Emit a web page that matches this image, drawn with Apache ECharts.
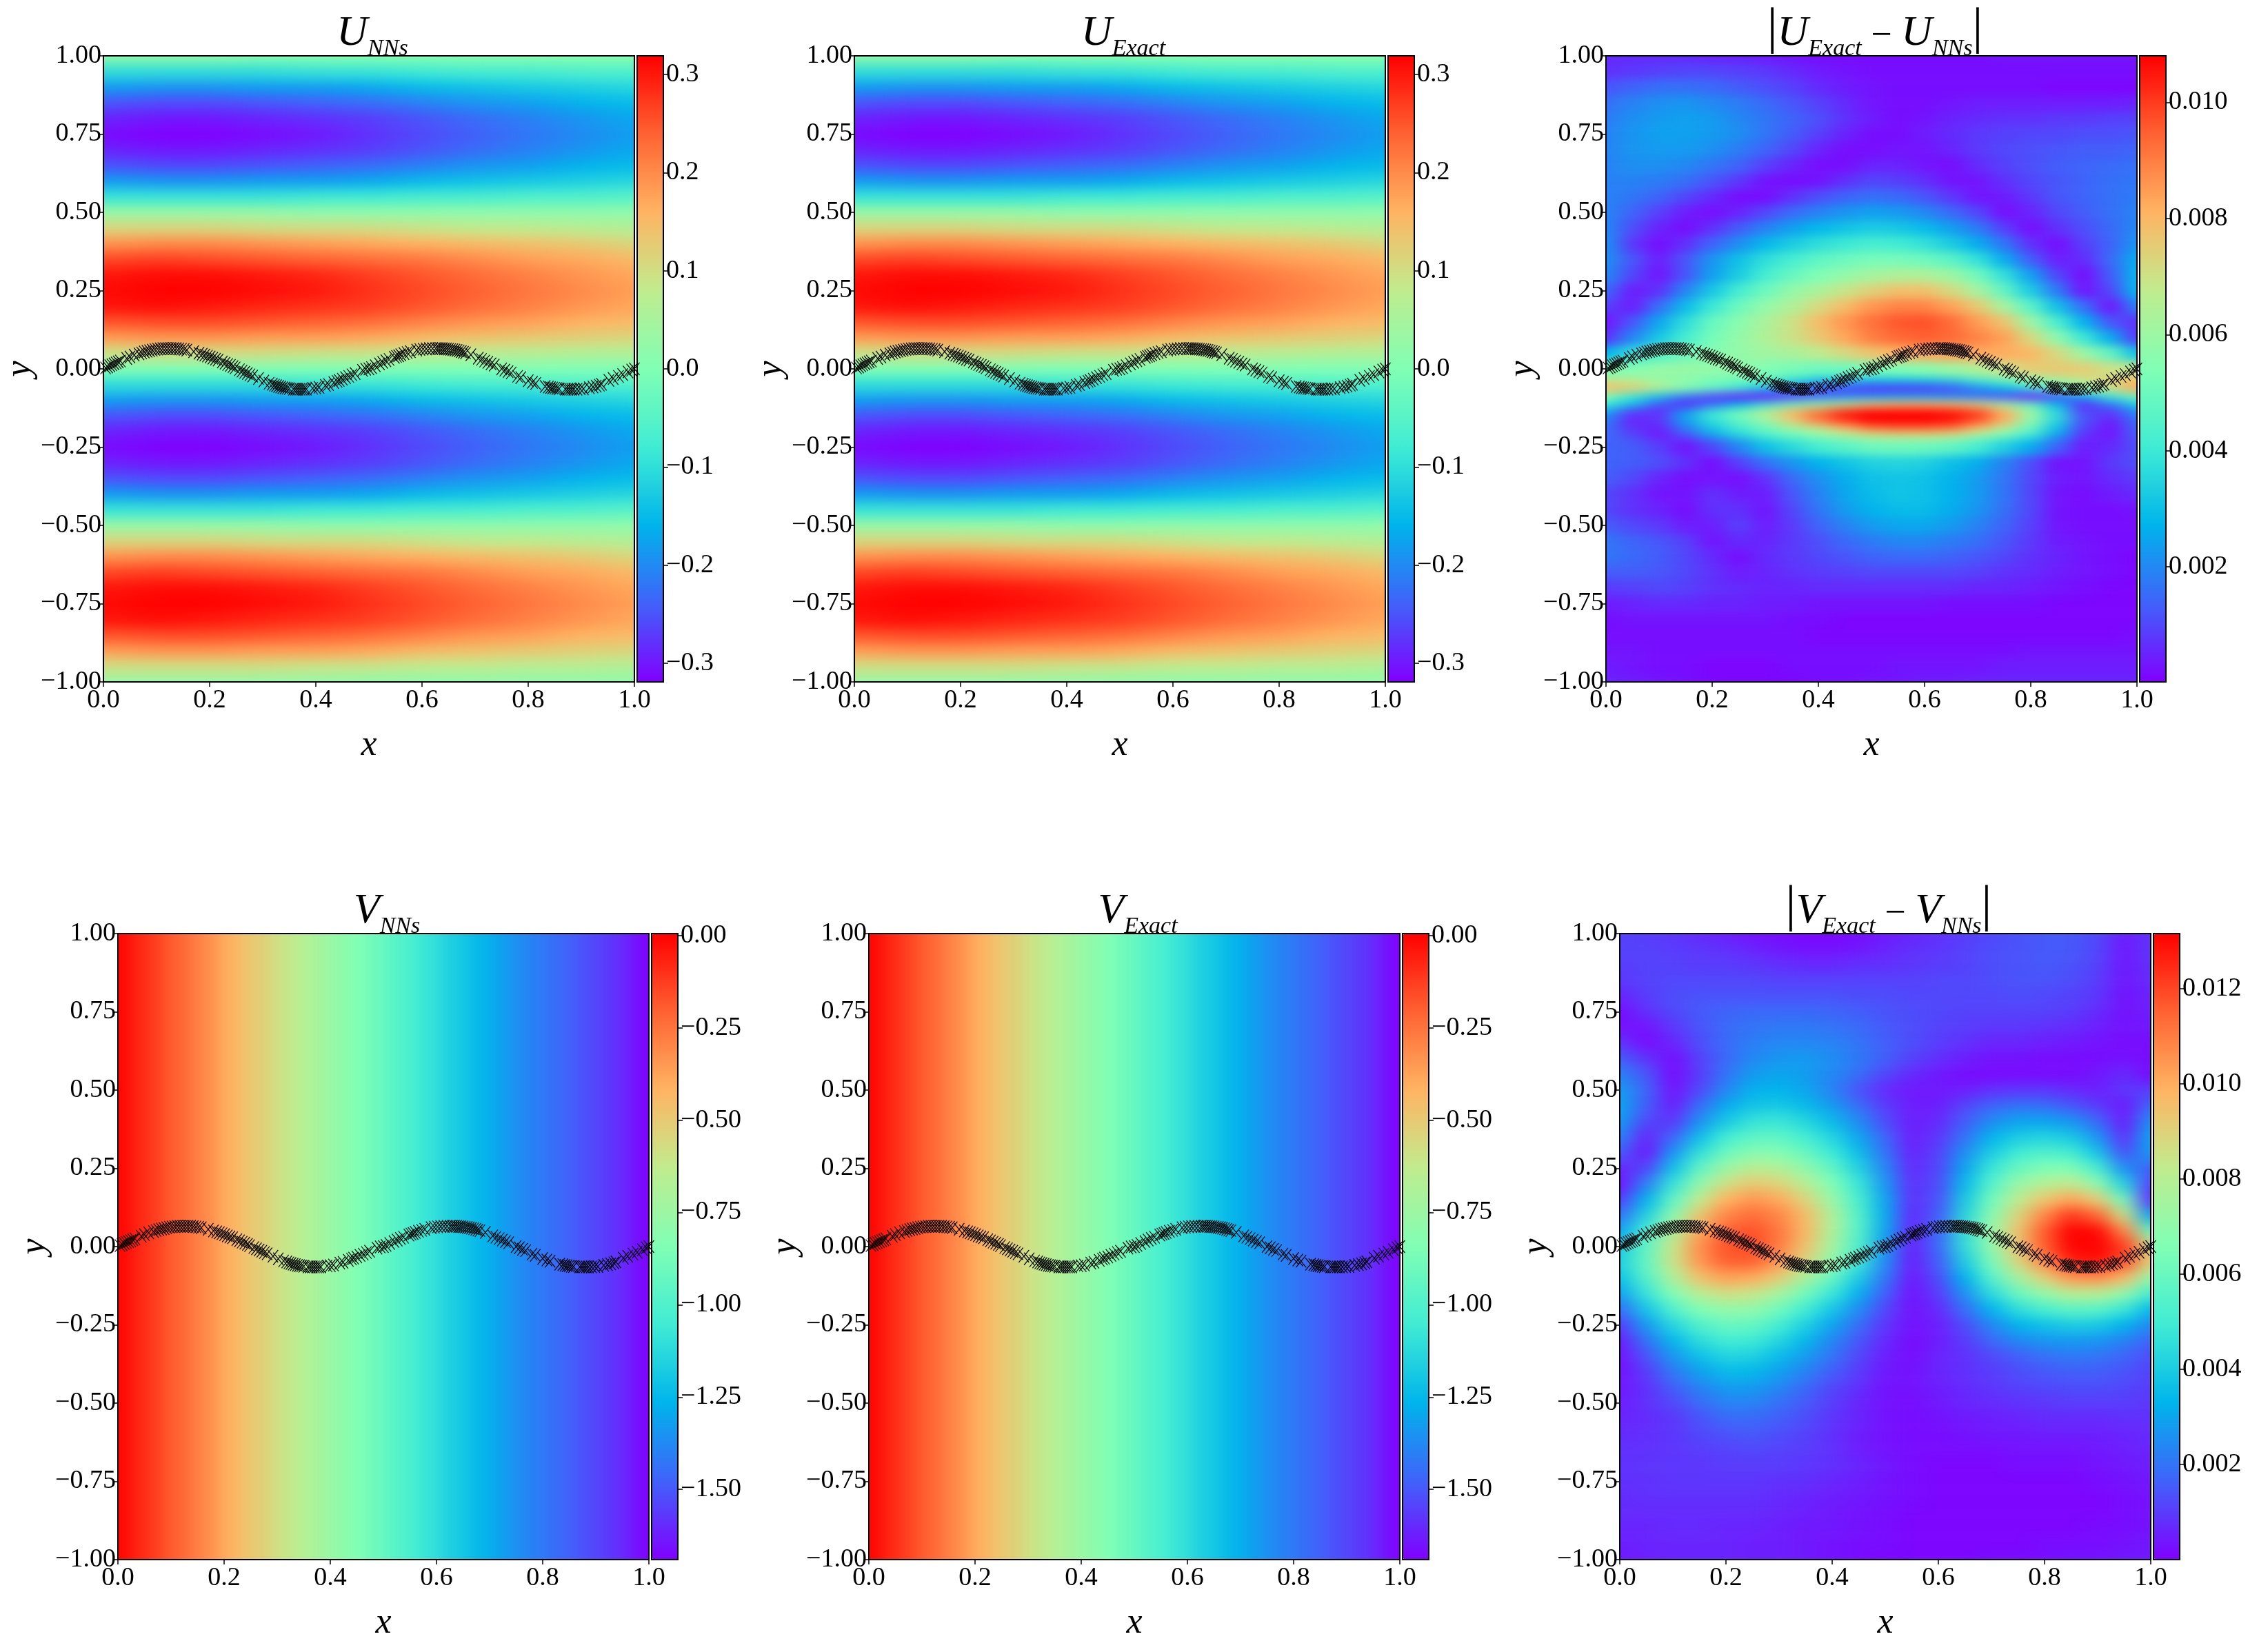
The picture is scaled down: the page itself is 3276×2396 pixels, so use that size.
<!DOCTYPE html>
<html>
<head>
<meta charset="utf-8">
<title>U V fields</title>
<script src="https://cdn.jsdelivr.net/npm/echarts@6/dist/echarts.min.js"></script>
<style>
html, body { margin: 0; padding: 0; background: #fff; }
#charts { position: absolute; left: 0; top: 0; width: 3276px; height: 2396px; z-index: 10; }
.heat { position: absolute; overflow: hidden; z-index: 1; }
.heat div.inner { position: absolute; }
</style>
</head>
<body>
<svg width="0" height="0" style="position:absolute">
	<filter id="blurU" x="0" y="0" width="100%" height="100%" color-interpolation-filters="sRGB"><feGaussianBlur stdDeviation="34 9"/></filter>
	<filter id="blurV" x="0" y="0" width="100%" height="100%" color-interpolation-filters="sRGB"><feGaussianBlur stdDeviation="9 1"/></filter>
	<filter id="blurE" x="0" y="0" width="100%" height="100%" color-interpolation-filters="sRGB"><feGaussianBlur stdDeviation="15 9"/></filter>
	<filter id="blurF" x="0" y="0" width="100%" height="100%" color-interpolation-filters="sRGB"><feGaussianBlur stdDeviation="14 7"/></filter>
</svg>
<div id="charts"></div>
<script>
// rows run from y=1 down to y=-1 in steps of 0.05
// U field, columns x=0..1 step 0.1. NN and exact look the same at this reading precision
const uField = [
	[.02,.02,.02,.01,.01,.01,.01,.01,.01,.01,.01],
	[-.10,-.10,-.10,-.10,-.09,-.09,-.08,-.07,-.07,-.06,-.06],
	[-.18,-.19,-.19,-.18,-.18,-.17,-.15,-.14,-.13,-.12,-.11],
	[-.25,-.26,-.26,-.25,-.24,-.23,-.21,-.19,-.18,-.16,-.15],
	[-.29,-.30,-.30,-.29,-.28,-.27,-.25,-.23,-.21,-.19,-.17],
	[-.31,-.32,-.32,-.31,-.30,-.28,-.26,-.24,-.22,-.20,-.18],
	[-.29,-.30,-.30,-.29,-.28,-.27,-.25,-.23,-.21,-.19,-.17],
	[-.25,-.26,-.26,-.25,-.24,-.23,-.21,-.19,-.18,-.16,-.15],
	[-.18,-.19,-.19,-.18,-.18,-.17,-.15,-.14,-.13,-.12,-.11],
	[-.09,-.09,-.09,-.09,-.08,-.08,-.07,-.07,-.06,-.06,-.05],
	[.03,.03,.03,.03,.02,.02,.02,.02,.02,.02,.02],
	[.11,.11,.11,.10,.10,.10,.09,.08,.08,.07,.06],
	[.19,.20,.20,.19,.18,.17,.16,.15,.14,.13,.11],
	[.26,.27,.26,.25,.24,.23,.22,.20,.18,.17,.15],
	[.30,.31,.31,.30,.29,.27,.25,.23,.21,.19,.17],
	[.31,.32,.32,.31,.30,.28,.26,.24,.22,.20,.18],
	[.30,.31,.30,.29,.28,.27,.25,.23,.21,.19,.17],
	[.25,.26,.26,.25,.24,.23,.21,.19,.18,.16,.15],
	[.18,.19,.19,.18,.18,.17,.15,.14,.13,.12,.11],
	[.09,.10,.10,.10,.09,.09,.08,.07,.07,.06,.06],
	[.00,.00,.00,.00,.00,.00,.00,.00,.00,.00,.00],
	[-.10,-.10,-.10,-.10,-.09,-.09,-.08,-.07,-.07,-.06,-.06],
	[-.18,-.19,-.19,-.18,-.18,-.17,-.15,-.14,-.13,-.12,-.11],
	[-.25,-.26,-.26,-.25,-.24,-.23,-.21,-.19,-.18,-.16,-.15],
	[-.29,-.30,-.30,-.29,-.28,-.27,-.25,-.23,-.21,-.19,-.17],
	[-.31,-.32,-.32,-.31,-.30,-.28,-.26,-.24,-.22,-.20,-.18],
	[-.29,-.30,-.30,-.29,-.28,-.27,-.25,-.23,-.21,-.19,-.17],
	[-.25,-.26,-.26,-.25,-.24,-.23,-.21,-.19,-.18,-.16,-.15],
	[-.18,-.19,-.19,-.18,-.18,-.17,-.15,-.14,-.13,-.12,-.11],
	[-.09,-.09,-.09,-.09,-.08,-.08,-.07,-.07,-.06,-.06,-.05],
	[.03,.03,.03,.03,.02,.02,.02,.02,.02,.02,.02],
	[.11,.11,.11,.10,.10,.10,.09,.08,.08,.07,.06],
	[.19,.20,.20,.19,.18,.17,.16,.15,.14,.13,.11],
	[.26,.27,.26,.25,.24,.23,.22,.20,.18,.17,.15],
	[.30,.31,.31,.30,.29,.27,.25,.23,.21,.19,.17],
	[.31,.32,.32,.31,.30,.28,.26,.24,.22,.20,.18],
	[.30,.31,.30,.29,.28,.27,.25,.23,.21,.19,.17],
	[.25,.26,.26,.25,.24,.23,.21,.19,.18,.16,.15],
	[.18,.19,.19,.18,.18,.17,.15,.14,.13,.12,.11],
	[.10,.10,.10,.10,.09,.09,.08,.08,.07,.07,.06],
	[.03,.03,.03,.03,.03,.02,.02,.02,.02,.02,.02]
];

// V field does not change with y, one row, columns x=0..1 step 0.025
const vField = [
	[0,-.05,-.09,-.14,-.19,-.23,-.28,-.33,-.39,-.44,-.49,-.53,-.58,-.62,-.67,-.71,-.76,-.80,-.84,-.89,-.93,-.98,-1.02,-1.07,-1.11,-1.16,-1.20,-1.24,-1.28,-1.32,-1.36,-1.39,-1.42,-1.45,-1.48,-1.51,-1.54,-1.57,-1.60,-1.65,-1.69]
];

// |U exact - U NN| in units of 0.001, columns x=0..1 step 0.05
// rows y=1..0 step .05, then y=-.025..-.2 step .025 around the thin band, then y=-.25..-1 step .05
const errU = [
	[.6,.6,.6,.6,.5,.5,.4,.3,.2,.2,.2,.2,.2,.2,.2,.3,.3,.3,.3,.3,.3],
	[.7,.8,.9,1,1,.9,.8,.6,.4,.3,.2,.2,.2,.2,.2,.2,.2,.2,.2,.2,.2],
	[1.2,1.4,1.6,1.6,1.5,1.3,1.1,.9,.6,.4,.3,.2,.2,.2,.2,.2,.2,.1,.1,.1,.1],
	[1.6,1.9,2.1,2.2,2,1.8,1.5,1.2,.9,.6,.3,.2,.2,.3,.4,.4,.4,.4,.4,.4,.5],
	[1.8,2.1,2.3,2.4,2.3,2,1.7,1.4,1.1,.7,.4,.2,.3,.5,.6,.7,.7,.8,.8,.9,.9],
	[1.9,2.2,2.4,2.4,2.3,2.1,1.7,1.3,.9,.5,.2,.2,.4,.6,.8,.9,1,1,1.1,1.1,1.2],
	[1.9,2.2,2.3,2.3,2.1,1.8,1.4,1,.5,.2,.2,.3,.3,.5,.8,1,1.1,1.2,1.3,1.3,1.4],
	[1.9,2.1,2.1,2,1.7,1.4,.9,.5,.2,.2,.5,.5,.3,.2,.6,.9,1.1,1.3,1.4,1.5,1.6],
	[1.9,1.9,1.8,1.6,1.2,.8,.3,.2,.3,.7,1,.9,.7,.3,.3,.7,1,1.2,1.4,1.6,1.7],
	[1.9,1.7,1.4,1,.6,.2,.2,.7,1.1,1.4,1.6,1.5,1.2,.8,.3,.4,.8,1.2,1.4,1.6,1.8],
	[1.9,1.4,.9,.4,.2,.5,1,1.5,1.9,2.2,2.4,2.3,2,1.5,1,.2,.5,1,1.3,1.6,1.9],
	[2,1.1,.5,.2,.7,1.3,1.9,2.4,2.8,3.1,3.3,3.2,2.9,2.4,1.8,.9,.2,.7,1.1,1.5,2],
	[2.1,.8,.2,.7,1.4,2.1,2.8,3.3,3.7,4,4.2,4.1,3.8,3.3,2.6,1.7,.7,.2,.9,1.4,2.2],
	[2.1,1.2,.4,1.2,2.2,3,3.7,4.2,4.7,5,5.2,5.2,5,4.6,3.8,2.6,1.3,.4,.6,1.5,2.6],
	[2,1,.3,1.2,2.4,3.3,4.2,4.9,5.4,5.8,6.2,6.4,6.4,6,5.1,3.8,2.4,1,.2,1.3,2.8],
	[1.5,.4,.7,2,3.2,4.2,5,5.8,6.3,6.9,7.4,7.8,7.8,7.2,6.2,4.8,3.3,1.8,.3,1,2.8],
	[.9,.4,1.6,2.9,4,5,5.8,6.4,7.2,7.9,8.6,8.9,8.9,8.4,7.6,6.2,4.6,3,1.6,.3,1.9],
	[.3,1.2,2.5,3.7,4.9,5.6,6.3,7,7.9,8.6,9.2,9.6,9.7,9.3,8.5,7.7,6,4.3,2.7,1.2,.7],
	[.7,2,3.2,4.2,5.2,5.8,6.4,7,7.6,8.3,9,9.3,9.5,9.3,8.9,8.4,7.2,5.7,4,2.6,.8],
	[2.7,3.7,4.4,5,5.5,5.8,6.1,6.3,6.7,7.2,7.7,8.1,8.3,8.4,8.3,8.2,8,7.2,6,4.8,3],
	[5.2,5.5,5.8,5.9,5.8,5.7,5.4,5.2,5,5,5.2,5.4,5.6,6,6.4,7,7.5,7.6,7.5,7,6.8],
	[7,6.7,6,5.6,5.2,5,4.5,3.7,3,3,2.9,2.9,3,3.3,4,4.8,5.4,6,6.8,7.5,8],
	[8,7.6,6.6,5.6,4.8,4,3,1.9,1,.9,.6,.6,.7,1,1.9,2.8,3.7,4.5,5.6,7,8.3],
	[5.5,4,3,1.8,.9,.3,.2,.8,1.6,2,2.2,2.4,2.3,2.1,1.6,1,.3,1,2.6,4,5],
	[4,3,1.3,.5,1.5,2.7,3.8,4.9,5.8,6.6,7.5,8,8,7.8,7.2,6,4.8,2.8,.6,1.8,3.4],
	[2.4,.8,.6,2.4,4,5.2,6.6,8,9.2,10.4,10.8,10.8,10.8,10.6,10,8.2,6,3.6,1,.8,2],
	[1.8,.5,.8,2.4,3.8,4.8,6,7.6,9.2,10.2,10.8,10.8,10.8,10.6,9.8,8.2,5.8,3.6,1.2,.5,1.6],
	[1.6,.7,.5,1.9,3.2,4.2,5,6,6.9,8,9.2,9.5,9.5,9.2,8,6.6,5,3,1,.3,1.4],
	[1.5,1,.3,1.1,2.4,3.4,4.3,5,5.6,6.2,6.8,7,7,6.8,6,5.2,4,2.4,.7,.3,1.3],
	[1.4,1.3,.9,.3,1,2,3,3.6,4.2,4.6,5,5.1,5,4.8,4.2,3.4,2.6,1.4,.4,.6,1.1],
	[1.4,1.3,1.1,.7,.2,.9,1.6,2.2,2.7,3.1,3.4,3.5,3.4,3,2.6,1.9,1.1,.3,.3,.8,1.1],
	[1.3,1,.5,.2,.3,.2,.7,1.5,2.1,2.6,3,3.1,3,2.7,2.3,1.7,1,.4,.3,.6,.8],
	[1,.7,.3,.3,.7,.4,.4,1.2,1.9,2.5,2.9,3.1,3,2.7,2.3,1.7,1,.3,.2,.4,.6],
	[1,.7,.5,.2,.7,.7,.3,1,1.7,2.3,2.7,2.9,2.9,2.6,2.2,1.6,1,.3,.2,.2,.3],
	[1.3,1,.8,.4,.4,.9,.4,.8,1.4,1.9,2.3,2.5,2.5,2.3,1.9,1.4,.9,.3,.2,.2,.2],
	[1.7,1.4,1.2,.9,.3,.6,.5,.8,1.1,1.5,1.8,2,2,1.8,1.6,1.2,.8,.4,.3,.2,.2],
	[1.7,1.5,1.3,1,.6,.2,.6,.8,1,1.2,1.4,1.5,1.5,1.4,1.2,1,.7,.5,.3,.2,.1],
	[1.3,1.3,1.2,1,.7,.4,.5,.7,.8,.9,1,1,1,1,.9,.7,.6,.4,.3,.2,.1],
	[.8,.9,1,.9,.7,.6,.5,.5,.6,.6,.6,.6,.6,.6,.5,.5,.4,.3,.2,.1,.1],
	[.4,.5,.6,.6,.5,.5,.4,.4,.3,.3,.3,.3,.3,.2,.2,.2,.2,.1,.1,.1,.1],
	[.2,.3,.3,.3,.3,.3,.3,.2,.2,.1,.1,.1,.1,.1,.1,.1,.1,.1,.1,.1,.1],
	[.2,.2,.2,.2,.2,.2,.2,.2,.1,.1,.1,.1,.1,.1,.1,.1,.1,.1,.1,.1,.2],
	[.3,.3,.2,.2,.2,.2,.2,.2,.2,.2,.2,.2,.2,.2,.2,.2,.3,.3,.3,.3,.3],
	[.4,.3,.2,.2,.1,.1,.1,.2,.2,.2,.2,.3,.3,.3,.3,.4,.4,.4,.4,.4,.4],
	[.5,.4,.3,.2,.1,.1,.1,.1,.2,.2,.3,.3,.4,.4,.5,.5,.5,.5,.5,.5,.5]
];
// how many 0.025 high strips each errU row covers
const errUSpan = [1,2,2,2,2,2,2,2,2,2,2,2,2,2,2,2,2,2,2,2,2,1,1,1,1,1,1,1,1,2,2,2,2,2,2,2,2,2,2,2,2,2,2,2,1];

// |V exact - V NN| in units of 0.001, columns x=0..1 step 0.05
const errV = [
	[1.1,1,.9,.7,.5,.3,.2,.1,.1,.2,.4,.6,.8,1,1.2,1.4,1.5,1.5,1.2,.5,.8],
	[1.1,1.1,1,.9,.8,.6,.4,.3,.3,.4,.6,.8,.9,1.1,1.3,1.4,1.5,1.5,1.2,.4,.9],
	[1,1.1,1.1,1,1,.9,.8,.7,.7,.8,.8,.9,1,1.1,1.3,1.4,1.5,1.4,1.1,.4,.8],
	[.9,1.1,1.2,1.2,1.2,1.2,1.1,1.1,1.1,1.1,1.1,1.1,1.2,1.2,1.3,1.4,1.4,1.3,1,.4,.7],
	[.6,1,1.3,1.4,1.4,1.4,1.4,1.4,1.4,1.3,1.3,1.2,1.2,1.2,1.2,1.3,1.2,1.1,.9,.3,.6],
	[.2,.8,1.2,1.5,1.7,1.8,1.8,1.8,1.7,1.6,1.4,1.3,1.2,1.1,1.1,1.1,1.1,1,.7,.3,.5],
	[.3,.3,.9,1.4,1.8,2,2.1,2.1,2,1.8,1.5,1.3,1.1,1,.9,.9,.8,.7,.5,.3,.4],
	[.9,.2,.6,1.3,1.8,2.2,2.4,2.4,2.3,2,1.6,1.3,1,.8,.6,.6,.5,.4,.3,.2,.2],
	[1.6,.9,.2,1.1,1.8,2.4,2.7,2.8,2.5,2.1,1.6,1.1,.8,.5,.3,.3,.2,.2,.2,.3,.2],
	[2.3,1.5,.2,1,2,2.8,3,2.8,2.4,1.9,1.2,.7,.4,.2,.2,.2,.2,.2,.4,.7,.2],
	[2.8,1.7,.3,1.2,2.4,3.2,3.3,3,2.3,1.4,.7,.4,.4,.5,.8,.9,.9,.7,.5,.9,1],
	[3,1.6,.5,1.9,3.1,3.8,3.9,3.5,2.8,1.9,1,.5,.5,1.2,1.7,2,1.9,1.5,1,.4,1.8],
	[2.8,1.2,.9,2.6,3.9,4.7,4.8,4.3,3.5,2.5,1.3,.5,.7,1.6,2.5,3,3,2.7,1.8,.5,2.6],
	[2.3,.6,1.7,3.6,5,5.7,5.7,5.1,4.2,3,1.7,.5,.9,2,3.3,4,4.2,3.9,2.7,.8,3],
	[1.6,.4,2.7,4.6,6.1,6.8,6.7,6,4.9,3.6,2,.6,1.1,2.6,4,5,5.4,5.1,3.8,1.4,2.8],
	[.6,1.2,3.7,5.8,7.3,8.1,7.9,7,5.8,4.2,2.4,.7,1.2,3,4.8,6,6.6,6.6,5.2,2.6,1.6],
	[.3,2.3,4.7,7,8.6,9.3,9,8,6.6,4.8,2.7,.8,1.3,3.5,5.5,7.2,8,8.3,7,4.2,1.1],
	[1,3.3,5.8,8.2,9.9,10.5,10.1,8.9,7.2,5.2,3,.8,1.4,3.9,6.2,8.1,9.4,10.2,9.2,6.2,.8],
	[2,4.2,6.9,9.3,10.8,11.3,10.8,9.6,7.8,5.5,3.1,.7,1.6,4.3,6.8,8.9,10.8,12.2,11.4,8.6,3],
	[3,5,7.8,10.1,11.5,11.8,11.1,9.7,7.8,5.5,3,.6,1.8,4.6,7.2,9.4,11.6,13.1,13,10.8,6],
	[3.9,5.8,8.4,10.6,11.8,11.9,11,9.4,7.5,5.3,2.8,.5,1.8,4.5,7,9.4,11.6,13.1,13.2,12.2,9],
	[4.1,5.9,8.4,10.4,11.5,11.5,10.4,8.8,6.9,4.8,2.5,.5,1.6,4,6.4,8.8,10.7,12.5,12.8,11.8,9],
	[3.7,5.5,7.7,9.4,10.2,10,9.1,7.6,5.9,4,2.1,.4,1.3,3.3,5.5,7.5,9,10.4,10.6,9.6,7],
	[2.9,4.7,6.6,8,8.6,8.4,7.5,6.2,4.8,3.2,1.6,.3,1,2.6,4.4,6,7.1,8,8,7,5],
	[1.9,3.8,5.4,6.6,7.1,7,6.2,5,3.8,2.5,1.2,.3,.7,1.9,3.3,4.5,5.2,5.7,5.6,4.8,3.4],
	[1,2.8,4.3,5.4,6,5.9,5.1,4.1,3,1.9,.9,.3,.5,1.3,2.4,3.3,3.7,4,3.9,3.3,2.4],
	[.5,2,3.4,4.5,5,4.9,4.3,3.4,2.4,1.5,.7,.2,.5,1,1.8,2.4,2.7,2.8,2.7,2.3,1.7],
	[.3,1.4,2.7,3.6,4.2,4.1,3.5,2.8,2,1.2,.5,.2,.6,.8,1.2,1.6,1.9,2.1,2,1.7,1.3],
	[.3,1,2.1,2.9,3.5,3.4,2.9,2.3,1.6,1,.4,.3,.6,.8,1,1.3,1.5,1.6,1.6,1.4,1.1],
	[.4,.8,1.6,2.3,2.8,2.8,2.4,1.8,1.2,.8,.3,.3,.5,.7,.9,1.1,1.2,1.3,1.3,1.2,1],
	[.5,.8,1.2,1.8,2.3,2.3,1.9,1.5,1,.6,.3,.2,.4,.6,.7,.8,.9,1,1,1,.9],
	[.6,.7,.9,1.4,1.8,1.8,1.6,1.3,.9,.6,.3,.2,.3,.4,.5,.6,.7,.7,.7,.8,.8],
	[.7,.8,.9,1.2,1.4,1.5,1.3,1.1,.8,.5,.3,.2,.2,.3,.4,.4,.5,.5,.5,.6,.7],
	[.8,.8,.9,1,1.1,1.2,1.1,1,.8,.5,.3,.2,.2,.2,.2,.3,.3,.3,.4,.5,.6],
	[.8,.9,.9,.9,1,1,1,.9,.8,.6,.4,.2,.1,.1,.1,.2,.2,.2,.3,.4,.5],
	[.8,.8,.9,.9,.9,.9,.8,.8,.6,.5,.3,.2,.1,.1,.1,.1,.1,.1,.2,.3,.4],
	[.7,.8,.8,.8,.8,.8,.7,.6,.5,.4,.3,.2,.1,.1,.1,.1,.1,.1,.1,.2,.3],
	[.7,.7,.7,.7,.7,.7,.6,.5,.4,.3,.2,.1,.1,.1,.1,.1,.1,.1,.1,.2,.3],
	[.6,.6,.7,.7,.6,.6,.5,.4,.4,.3,.2,.1,.1,.1,.1,.1,.1,.1,.2,.2,.3],
	[.5,.6,.6,.6,.6,.5,.5,.4,.3,.2,.2,.1,.1,.1,.1,.1,.2,.2,.2,.3,.4],
	[.4,.5,.6,.6,.6,.5,.5,.4,.3,.2,.1,.1,.1,.1,.2,.2,.2,.3,.3,.4,.4]
];

// interface points, same crosses on all six panels
const curveX = [.004,.008,.012,.016,.02,.024,.028,.032,.044,.05,.058,.067,.072,.077,.082,.087,.092,.097,.102,.107,.112,.117,.122,.127,.132,.137,.142,.147,.152,.157,.17,.18,.186,.191,.196,.201,.206,.211,.216,.224,.229,.234,.239,.244,.248,.256,.261,.266,.271,.276,.281,.292,.302,.312,.318,.322,.326,.33,.334,.338,.342,.346,.35,.358,.362,.366,.37,.374,.378,.382,.394,.4,.406,.418,.424,.434,.44,.444,.45,.456,.462,.468,.474,.488,.494,.5,.505,.512,.52,.526,.532,.538,.548,.552,.556,.56,.566,.572,.578,.59,.596,.602,.608,.614,.62,.626,.63,.634,.638,.642,.646,.65,.654,.658,.662,.666,.67,.674,.678,.682,.692,.706,.712,.718,.724,.73,.736,.75,.756,.762,.768,.78,.786,.8,.808,.814,.832,.838,.842,.846,.85,.854,.858,.87,.874,.878,.882,.886,.892,.898,.904,.915,.922,.928,.934,.938,.952,.96,.97,.978,.988,.995,1];
const curveY = [.003,.006,.01,.013,.016,.019,.022,.025,.033,.038,.044,.048,.051,.054,.056,.058,.06,.062,.063,.064,.065,.065,.065,.065,.065,.065,.064,.063,.062,.06,.055,.05,.047,.044,.041,.038,.034,.031,.028,.022,.018,.014,.011,.007,.003,-.003,-.007,-.011,-.015,-.019,-.023,-.031,-.039,-.046,-.049,-.052,-.054,-.056,-.058,-.06,-.061,-.062,-.063,-.065,-.065,-.065,-.065,-.065,-.065,-.065,-.062,-.061,-.059,-.053,-.05,-.044,-.04,-.037,-.033,-.028,-.024,-.019,-.015,-.005,-.001,0,.004,.01,.016,.021,.026,.03,.037,.04,.042,.045,.049,.052,.055,.06,.062,.063,.064,.065,.065,.065,.065,.065,.065,.064,.064,.063,.062,.061,.06,.059,.057,.055,.053,.051,.045,.034,.03,.025,.021,.016,.012,0,-.004,-.009,-.013,-.024,-.028,-.038,-.043,-.047,-.056,-.058,-.06,-.061,-.062,-.063,-.064,-.065,-.065,-.065,-.065,-.065,-.065,-.064,-.064,-.06,-.058,-.055,-.052,-.049,-.037,-.031,-.024,-.018,-.01,-.004,0];

const uTicks = [.3,.2,.1,0,-.1,-.2,-.3];
const vTicks = [0,-.25,-.5,-.75,-1,-1.25,-1.5];
const errUTicks = [.002,.004,.006,.008,.01];
const errVTicks = [.002,.004,.006,.008,.01,.012];

const rainbow = ['#8000ff','#4062fa','#00b4ec','#40ecd4','#80ffb4','#c0ec8e','#ffb462','#ff6232','#ff0000'];
const FONT = 'Liberation Serif';
const toErr = rows => rows.map(r => r.map(v => v / 1000));
const withSpan = (rows, span) => rows.flatMap((r, i) => Array(span[i]).fill(r));
// grid values sit on the frame at both ends, so the first and last cell are half width
const halfEnds = list => list.flatMap((v, i) => (i === 0 || i === list.length - 1) ? [v] : [v, v]);
const gridCols = rows => rows.map(halfEnds);

const panels = [
	{ box: [150, 81, 770, 908], rows: gridCols(halfEnds(uField)), padY: 4, range: [-.319, .319], ticks: uTicks, digits: 1, blur: 'blurU',
		title: '{i|U}{s|NNs}' },
	{ box: [1239, 81, 770, 908], rows: gridCols(halfEnds(uField)), padY: 4, range: [-.319, .319], ticks: uTicks, digits: 1, blur: 'blurU',
		title: '{i|U}{s|Exact}' },
	{ box: [2329, 81, 770, 908], rows: gridCols(withSpan(toErr(errU), errUSpan)), padY: 4, range: [.00002, .0108], ticks: errUTicks, digits: 3, blur: 'blurF',
		title: '{b||}{i|U}{s|Exact}{o| \u2212 }{i|U}{s|NNs}{b||}' },
	{ box: [171, 1354, 770, 908], rows: gridCols(vField), padY: 2, range: [-1.69, .005], ticks: vTicks, digits: 2, blur: 'blurV',
		title: '{i|V}{s|NNs}' },
	{ box: [1260, 1354, 770, 908], rows: gridCols(vField), padY: 2, range: [-1.69, .005], ticks: vTicks, digits: 2, blur: 'blurV',
		title: '{i|V}{s|Exact}' },
	{ box: [2349, 1354, 770, 908], rows: gridCols(halfEnds(toErr(errV))), padY: 4, range: [0, .01316], ticks: errVTicks, digits: 3, blur: 'blurE',
		title: '{b||}{i|V}{s|Exact}{o| \u2212 }{i|V}{s|NNs}{b||}' }
];

const fmt = (v, digits) => (v < 0 ? '\u2212' : '') + Math.abs(v).toFixed(digits);

// the colour fields sit in their own small charts under the axes chart
function drawHeat(p) {
	const [x, y, w, h] = p.box;
	const ny = p.rows.length, nx = p.rows[0].length;
	const padX = 4, padY = p.padY;
	const cw = w / nx, ch = h / ny;

	const outer = document.createElement('div');
	outer.className = 'heat';
	outer.style.cssText = `left:${x}px;top:${y}px;width:${w}px;height:${h}px`;
	const inner = document.createElement('div');
	inner.className = 'inner';
	inner.style.cssText = `left:${-padX * cw}px;top:${-padY * ch}px;width:${w + 2 * padX * cw}px;height:${h + 2 * padY * ch}px;filter:url(#${p.blur})`;
	outer.appendChild(inner);
	document.body.appendChild(outer);

	const data = [];
	for (let j = -padY; j < ny + padY; j++) {
		for (let i = -padX; i < nx + padX; i++) {
			const r = p.rows[Math.min(ny - 1, Math.max(0, j))];
			data.push([i + padX, j + padY, r[Math.min(nx - 1, Math.max(0, i))]]);
		}
	}
	const cols = Array.from({ length: nx + 2 * padX }, (_, i) => i);
	const lines = Array.from({ length: ny + 2 * padY }, (_, i) => i);

	echarts.init(inner).setOption({
		animation: false,
		grid: { left: 0, right: 0, top: 0, bottom: 0 },
		xAxis: { type: 'category', data: cols, show: false },
		yAxis: { type: 'category', data: lines, show: false, inverse: true },
		visualMap: { show: false, min: p.range[0], max: p.range[1], inRange: { color: rainbow } },
		series: [{ type: 'heatmap', data: data, progressive: 0, itemStyle: { borderWidth: 0 } }]
	});
}

panels.forEach(drawHeat);

const axisBase = {
	axisLine: { show: true, onZero: false, lineStyle: { color: '#000', width: 2 } },
	axisTick: { show: true, length: 7, lineStyle: { color: '#000', width: 1.5 } },
	splitLine: { show: false },
	axisLabel: { color: '#000', fontFamily: FONT, fontSize: 38 }
};
const nameStyle = { color: '#000', fontFamily: FONT, fontStyle: 'italic', fontSize: 52 };
const titleBase = { fontFamily: FONT, color: '#000', fontWeight: 'normal', lineHeight: 70, verticalAlign: 'bottom' };

const option = { animation: false, title: [], grid: [], xAxis: [], yAxis: [], visualMap: [], series: [] };

panels.forEach((p, k) => {
	const [x, y, w, h] = p.box;
	const barLeft = x + w + 4, barW = 38;

	option.grid.push({ left: x, top: y, width: w, height: h, show: true, borderColor: '#000', borderWidth: 2, backgroundColor: 'transparent' });
	option.grid.push({ left: barLeft, top: y, width: barW, height: h, show: true, borderColor: '#000', borderWidth: 2, backgroundColor: 'transparent', z: 6 });

	option.xAxis.push({
		...axisBase, type: 'value', gridIndex: 2 * k, min: 0, max: 1, interval: .2,
		axisLabel: { ...axisBase.axisLabel, margin: 8, formatter: v => v.toFixed(1) },
		name: 'x', nameLocation: 'middle', nameGap: 66, nameTextStyle: nameStyle
	});
	option.yAxis.push({
		...axisBase, type: 'value', gridIndex: 2 * k, min: -1, max: 1, interval: .25,
		axisLabel: { ...axisBase.axisLabel, margin: 3, formatter: v => fmt(v, 2) },
		name: 'y', nameLocation: 'middle', nameGap: 88, nameTextStyle: nameStyle
	});

	option.xAxis.push({ type: 'value', gridIndex: 2 * k + 1, min: 0, max: 1, show: false });
	option.yAxis.push({
		...axisBase, type: 'value', gridIndex: 2 * k + 1, position: 'right', z: 6,
		min: p.range[0], max: p.range[1],
		axisTick: { ...axisBase.axisTick, customValues: p.ticks },
		axisLabel: { ...axisBase.axisLabel, margin: 4, customValues: p.ticks, formatter: v => fmt(v, p.digits) }
	});

	option.visualMap.push({
		type: 'continuous', seriesIndex: [], min: p.range[0], max: p.range[1],
		left: barLeft + 1, top: y, itemWidth: barW - 1, itemHeight: h, padding: 0, z: 1,
		calculable: false, hoverLink: false, inRange: { color: rainbow }
	});

	option.title.push({
		text: p.title, left: x + w / 2, top: y - 76, textAlign: 'center',
		textStyle: {
			fontWeight: 'normal',
			rich: {
				i: { ...titleBase, fontStyle: 'italic', fontSize: 62 },
				s: { ...titleBase, fontStyle: 'italic', fontSize: 34, padding: [0, 0, -8, 0] },
				o: { ...titleBase, fontSize: 54 },
				b: { ...titleBase, fontSize: 74 }
			}
		}
	});

	option.series.push({
		type: 'scatter', xAxisIndex: 2 * k, yAxisIndex: 2 * k, clip: false, z: 5,
		data: curveX.map((cx, i) => [cx, curveY[i]]),
		symbol: 'path://M0 0L10 10M10 0L0 10', symbolSize: [15, 18],
		itemStyle: { color: 'transparent', borderColor: '#000', borderWidth: 1.2, opacity: 1 }
	});
});

const myChart = echarts.init(document.getElementById('charts'));
myChart.setOption(option);
</script>
</body>
</html>
